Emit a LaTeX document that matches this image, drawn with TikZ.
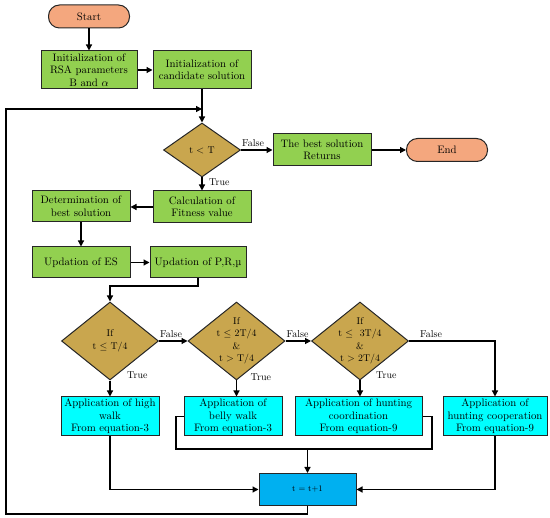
\documentclass[tikz,border=0pt]{standalone}
\usetikzlibrary{shapes.geometric,arrows.meta}
\definecolor{cgreen}{HTML}{92D050}
\definecolor{corange}{HTML}{F4A77E}
\definecolor{cgold}{HTML}{C9A64E}
\definecolor{ccyan}{HTML}{00FFFF}
\definecolor{cblue}{HTML}{00B0F0}
\definecolor{cedge}{HTML}{262626}
\begin{document}
\begin{tikzpicture}[x=1pt,y=-1pt,
 base/.style={draw=cedge, line width=1pt, inner sep=1pt, align=center, font=\fontsize{10.8}{12.5}\selectfont},
 term/.style={base, fill=corange, rounded corners=11pt, minimum width=81pt, minimum height=23pt},
 gbox/.style={base, fill=cgreen, minimum height=31pt},
 cbox/.style={base, fill=ccyan, minimum height=39pt},
 dec/.style={base, diamond, fill=cgold, shape aspect=1.25, inner sep=-4pt, minimum width=97pt, minimum height=78pt, font=\fontsize{9.8}{12.5}\selectfont},
 arr/.style={draw=black, line width=1.2pt, -{Triangle[length=6pt,width=6pt]}},
 ln/.style={draw=black, line width=1.2pt},
 lab/.style={font=\fontsize{10}{11}\selectfont, inner sep=1pt}
]
\useasboundingbox (0,0) rectangle (550,518);
\node[term] (start) at (89,16.5) {Start};
\node[gbox, minimum width=96pt, minimum height=38pt] (rsa) at (89,70) {Initialization of\\RSA parameters\\B and $\alpha$};
\node[gbox, minimum width=98pt, minimum height=38pt] (cand) at (202,70) {Initialization of\\candidate solution};
\node[dec, minimum width=77pt, minimum height=54pt, shape aspect=1.43] (d0) at (202,150) {t $<$ T};
\node[gbox, minimum width=98pt, minimum height=32pt] (best) at (322,150) {The best solution\\Returns};
\node[term] (end) at (447,150) {End};
\node[gbox, minimum width=98pt, minimum height=32pt] (calc) at (202,207) {Calculation of\\Fitness value};
\node[gbox, minimum width=98pt] (det) at (81,206.5) {Determination of\\best solution};
\node[gbox, minimum width=98pt] (es) at (81,262.5) {Updation of ES};
\node[gbox, minimum width=96pt] (prm) at (198,262.5) {Updation of P,R,µ};
\node[dec] (d1) at (110,341) {If\\t $\le$ T/4};
\node[dec] (d2) at (236.5,341) {If\\t $\le$ 2T/4\\\&\\t $>$ T/4};
\node[dec] (d3) at (360,341) {If\\t $\le$\ \ 3T/4\\\&\\t $>$ 2T/4};
\node[cbox, minimum width=98pt] (high) at (110,416.5) {Application of high\\walk\\From equation-3};
\node[cbox, minimum width=98pt] (belly) at (233,416.5) {Application of\\belly walk\\From equation-3};
\node[cbox, minimum width=127pt] (coord) at (358.5,416.5) {Application of hunting\\coordination\\From equation-9};
\node[cbox, minimum width=104pt] (coop) at (495,416.5) {Application of\\hunting cooperation\\From equation-9};
\node[base, fill=cblue, minimum width=97pt, minimum height=32pt, font=\fontsize{8.5}{10}\selectfont] (tt) at (307.5,489.5) {t = t+1};
\coordinate (lb) at (6,514);
\coordinate (lt) at (6,109);
\coordinate (j) at (202,109);
\coordinate (c1) at (0,286);
\coordinate (bl) at (176,449);
\coordinate (br) at (432,449);
\draw[arr] (start) -- (rsa);
\draw[arr] (rsa) -- (cand);
\draw[arr] (cand) -- (d0);
\draw[arr] (tt.south) |- (lb) -- (lt) -- (j);
\draw[arr] (d0) -- (best);
\draw[arr] (best) -- (end);
\draw[arr] (d0) -- (calc);
\draw[arr] (calc.west) -- (calc.west -| det.east);
\draw[arr] (det) -- (es);
\draw[arr] (es) -- (prm);
\draw[arr] (prm.south) -- (prm.south |- c1) -| (d1.north);
\draw[arr] (d1) -- (d2);
\draw[arr] (d2) -- (d3);
\draw[arr] (d3.east) -| (coop.north);
\draw[arr] (d1) -- (high);
\draw[arr] (d2.south) -- (d2.south |- belly.north);
\draw[arr] (d3.south) -- (d3.south |- coord.north);
\draw[ln] (belly.west) -| (bl) -- (br) |- (coord.east);
\draw[arr] (tt.north |- bl) -- (tt.north);
\draw[arr] (high.south) |- (tt.west);
\draw[arr] (coop.south) |- (tt.east);
\node[lab, anchor=south west] (f0) at ([yshift=2pt]d0.east) {False};
\node[lab, anchor=north west] (t0) at ([xshift=6pt]d0.south) {True};
\node[lab, anchor=south west] (f1) at ([yshift=2pt]d1.east) {False};
\node[lab, anchor=south west] (f2) at ([yshift=2pt]d2.east) {False};
\node[lab, anchor=south west] (f3) at ([xshift=10pt,yshift=2pt]d3.east) {False};
\node[lab, anchor=west] (t1) at ([xshift=16pt,yshift=5pt]d1.south) {True};
\node[lab, anchor=west] (t2) at ([xshift=13pt,yshift=3pt]d2.south) {True};
\node[lab, anchor=west] (t3) at ([xshift=15pt,yshift=5pt]d3.south) {True};
\end{tikzpicture}
\end{document}
